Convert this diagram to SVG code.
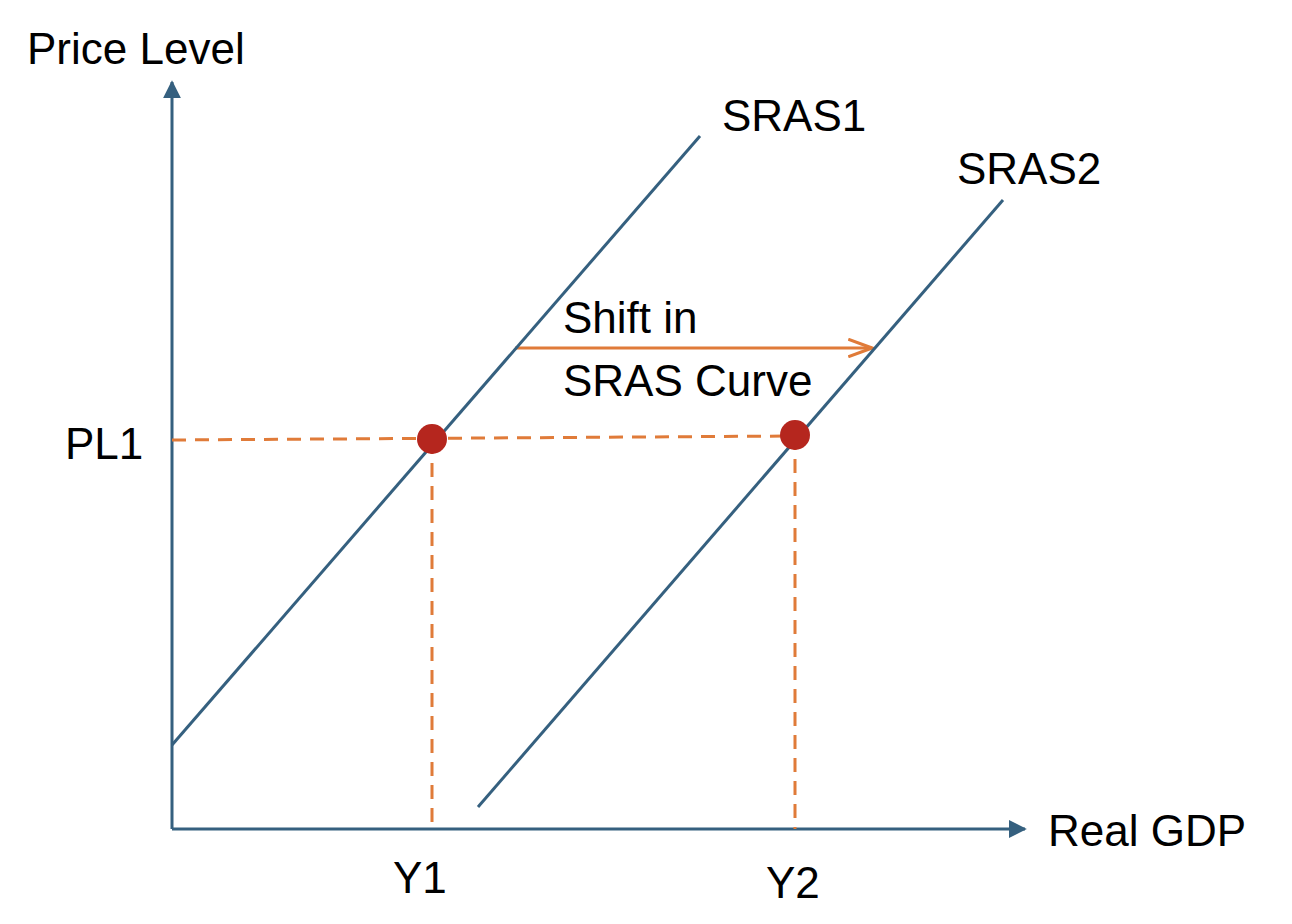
<svg xmlns="http://www.w3.org/2000/svg" width="1292" height="924" viewBox="0 0 1292 924">
<style>
.ax{stroke:#35607f;stroke-width:3;fill:none}
.cv{stroke:#35607f;stroke-width:3;fill:none}
.ds{stroke:#e07b39;stroke-width:3;stroke-dasharray:14,9;fill:none}
.t{font-family:"Liberation Sans",Arial,sans-serif;font-size:44px;fill:#000}
</style>
<defs>
<marker id="ao" viewBox="0 0 20 16" refX="19" refY="8" markerWidth="26" markerHeight="20" orient="auto" markerUnits="userSpaceOnUse"><path d="M0,1L19,8L0,15" fill="none" stroke="#e07b39" stroke-width="2.5"/></marker>
<marker id="aa" viewBox="0 0 10 10" refX="9" refY="5" markerWidth="18" markerHeight="18" orient="auto" markerUnits="userSpaceOnUse"><path d="M0,0L10,5L0,10z" fill="#35607f"/></marker>
</defs>
<g id="connectors">
<path class="ax" d="M172,829V82" marker-end="url(#aa)"/>
<path class="ax" d="M172,829H1025" marker-end="url(#aa)"/>
<path class="ds" d="M172,440L795,436"/>
<path class="ds" d="M432,440V829"/>
<path class="ds" d="M795,436V829"/>
<path d="M515,348H872" stroke="#e07b39" stroke-width="3" fill="none" marker-end="url(#ao)"/>
</g>
<g id="sras1"><path class="cv" d="M172,745L700,136"/><text class="t" x="722" y="131">SRAS1</text></g>
<g id="sras2"><path class="cv" d="M478,807L1003,200"/><text class="t" x="957" y="184">SRAS2</text></g>
<g id="dot1"><circle cx="432" cy="439" r="15" fill="#b5261e"/></g>
<g id="dot2"><circle cx="795" cy="435" r="15" fill="#b5261e"/></g>
<g id="labels">
<text class="t" x="27" y="64">Price Level</text>
<text class="t" x="563" y="333">Shift in</text>
<text class="t" x="563" y="396">SRAS Curve</text>
<text class="t" x="65" y="459">PL1</text>
<text class="t" x="393" y="893">Y1</text>
<text class="t" x="766" y="898">Y2</text>
<text class="t" x="1048" y="846">Real GDP</text>
</g>
</svg>
